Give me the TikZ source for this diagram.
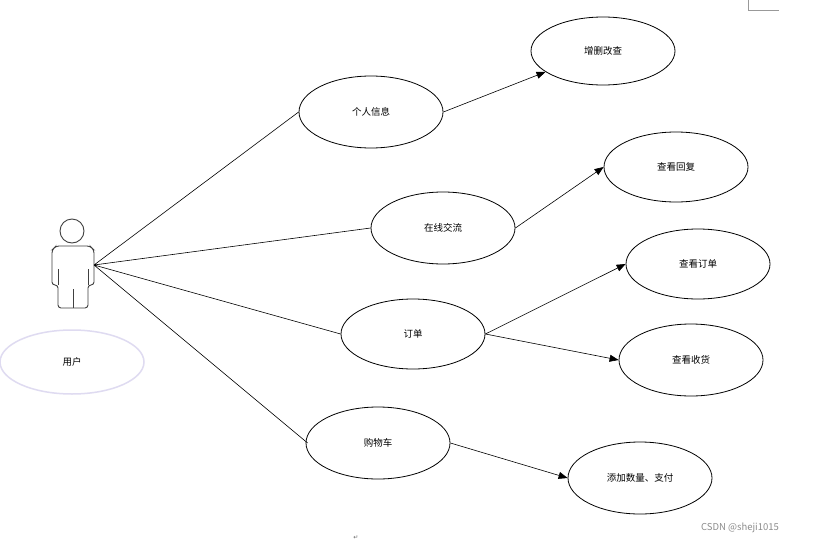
\documentclass[tikz,border=0pt]{standalone}
\usepackage{fontspec}
\setmainfont{Noto Sans CJK SC}
\newfontfamily\djv{DejaVu Sans}
\usetikzlibrary{arrows.meta,shapes.geometric}
\begin{document}
\begin{tikzpicture}[x=1pt,y=-1pt,
  uc/.style={draw,ellipse,line width=0.8pt,minimum width=144pt,minimum height=72pt,font=\fontsize{9.5}{10}\selectfont},
  ln/.style={line width=0.6pt},
  arr/.style={line width=0.6pt,-{Triangle[length=9pt,width=7pt]}}]
\useasboundingbox (0,0) rectangle (819,546);
\fill[white] (0,0) rectangle (819,546);
% user ellipse
\node[ellipse,draw=cyan!8!blue!12,line width=1.5pt,fill=white,minimum width=144pt,minimum height=64pt,font=\fontsize{9.5}{10}\selectfont] (user) at (72,362) {用户};
% actor
\begin{scope}[draw=black!75,line width=0.9pt,fill=white]
\node[circle,draw=black!75,line width=0.9pt,minimum size=24pt,inner sep=0] (head) at (72,231) {};
\draw[rounded corners=3pt] (58,308) -- (58,285) -- (52,285) -- (52,250) -- (56,246) -- (90,246) -- (94,250) -- (94,285) -- (88,285) -- (88,308) -- cycle;
\draw (58,269) -- (58,285) (88,269) -- (88,285) (73,289) -- (73,308);
\end{scope}
\coordinate (hand) at (94,265);
\node[uc] (info) at (371,112) {个人信息};
\node[uc,minimum height=68pt] (crud) at (603,51) {增删改查};
\node[uc] (chat) at (443,228) {在线交流};
\node[uc,minimum height=70pt] (reply) at (676,167) {查看回复};
\node[uc,minimum height=70pt] (order) at (413,334) {订单};
\node[uc,minimum height=70pt] (vorder) at (698,264) {查看订单};
\node[uc] (recv) at (691,360) {查看收货};
\node[uc] (cart) at (378,443) {购物车};
\node[uc] (pay) at (640,478) {添加数量、支付};
\draw[ln] (hand) -- (info.west) (hand) -- (chat.west) (hand) -- (order.west) (hand) -- ([xshift=2pt]cart.west);
\draw[arr] (info.east) -- (crud.200);
\draw[arr] (chat.east) -- (reply.west);
\draw[arr] (order.east) -- (vorder.west);
\draw[arr] (order.east) -- (recv.west);
\draw[arr] (cart.east) -- (pay.west);
\draw[black!40,line width=0.8pt] (748,0) -- (748,10) -- (779,10);
\node[text=black!45,font=\fontsize{9.5}{10}\selectfont] (wm) at (740,528) {CSDN @sheji1015};
\node[font=\djv\fontsize{6}{7}\selectfont,text=black!60] (mk) at (356,538) {↵};
\end{tikzpicture}
\end{document}
